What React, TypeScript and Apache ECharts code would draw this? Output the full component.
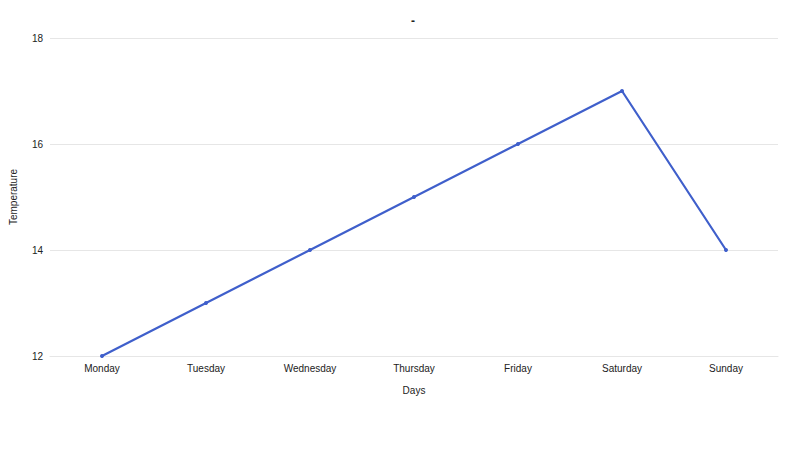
import React, { useEffect, useRef } from "react";
import * as echarts from "echarts";

const categories = ["Monday", "Tuesday", "Wednesday", "Thursday", "Friday", "Saturday", "Sunday"];
const temperatures = [12, 13, 14, 15, 16, 17, 14];
const titleText = "-";
const xName = "Days";
const yName = "Temperature";

export default function App() {
  const ref = useRef<HTMLDivElement>(null);
  useEffect(() => {
    const chart = echarts.init(ref.current!, null, { renderer: "svg" });
    const font = "Liberation Sans, Arial, sans-serif";
    chart.setOption({
      animation: false,
      title: {
        text: titleText,
        left: 406,
        top: 10,
        textStyle: { fontFamily: font, fontSize: 12, fontWeight: "bold", color: "#222" },
      },
      grid: { left: 47, right: 22, top: 38, bottom: 94 },
      xAxis: {
        type: "category",
        data: categories,
        boundaryGap: true,
        name: xName,
        nameLocation: "middle",
        nameGap: 29,
        nameTextStyle: { fontFamily: font, fontSize: 10, color: "#222" },
        axisLine: { show: true, lineStyle: { color: "#e6e6e6" } },
        axisTick: { show: false },
        axisLabel: { fontFamily: font, fontSize: 10, color: "#222", margin: 7 },
      },
      yAxis: {
        type: "value",
        min: 12,
        max: 18,
        interval: 2,
        name: yName,
        nameLocation: "middle",
        nameGap: 32,
        nameTextStyle: { fontFamily: font, fontSize: 10, color: "#222" },
        axisLine: { show: false },
        axisTick: { show: false },
        axisLabel: { fontFamily: font, fontSize: 10, color: "#222", margin: 7 },
        splitLine: { lineStyle: { color: "#e6e6e6" } },
      },
      series: [
        {
          type: "line",
          data: temperatures,
          symbol: "circle",
          symbolSize: 4,
          lineStyle: { color: "#3f5fcb", width: 2.2 },
          itemStyle: { color: "#3f5fcb" },
        },
      ],
    });
    return () => chart.dispose();
  }, []);
  return <div ref={ref} style={{ width: 800, height: 450, position: "absolute", left: 0, top: 0 }} />;
}
